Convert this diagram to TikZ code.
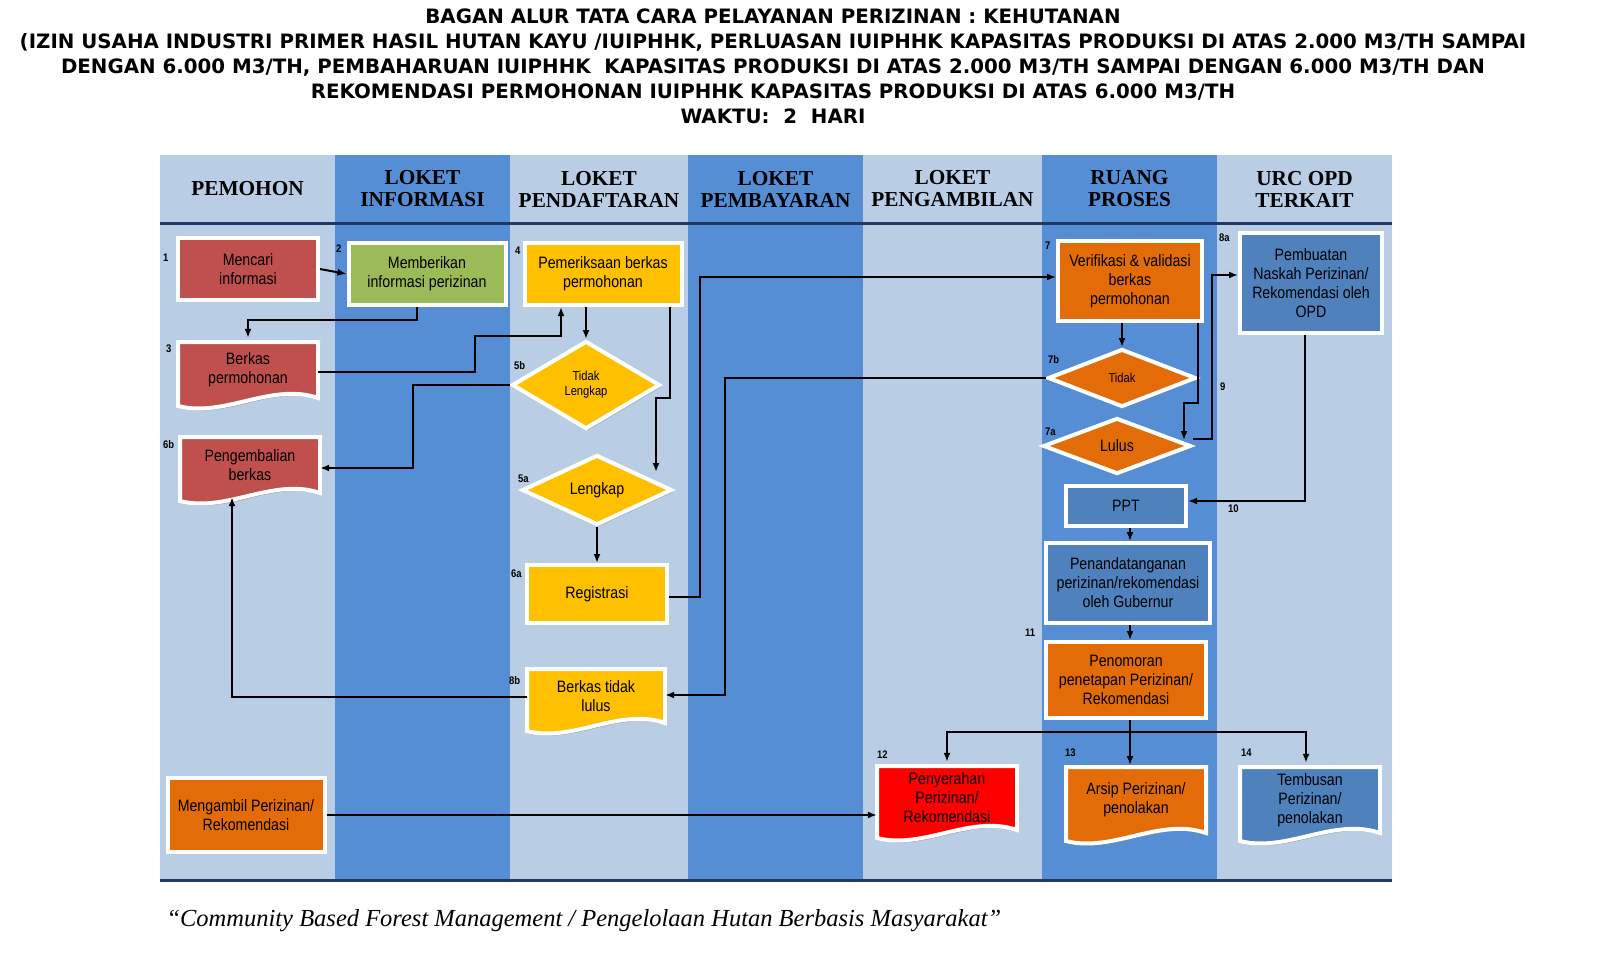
\documentclass[tikz,border=0pt]{standalone}
\usepackage{fontspec}
\setmainfont{Liberation Sans}[FakeStretch=0.86]
\newfontfamily\titlefont{DejaVu Sans}
\newfontfamily\lanefont{Liberation Serif}
\usetikzlibrary{arrows.meta, shapes.geometric, shadows}

\definecolor{laneLight}{HTML}{B9CDE5}
\definecolor{laneDark}{HTML}{558ED5}
\definecolor{lineNavy}{HTML}{1F3864}
\definecolor{boxRed}{HTML}{C0504D}
\definecolor{boxGreen}{HTML}{9BBB59}
\definecolor{boxYellow}{HTML}{FFC000}
\definecolor{boxOrange}{HTML}{E36C09}
\definecolor{boxBlue}{HTML}{4F81BD}

\tikzset{
  procbox/.style={draw=white, line width=4pt, text=black, align=center,
    font=\fontsize{16.5}{19}\selectfont,
    drop shadow={opacity=0.45, shadow xshift=2pt, shadow yshift=-2pt}},
  choice/.style={procbox, diamond, inner sep=0pt},
  num/.style={font=\fontsize{11}{12}\selectfont\bfseries, anchor=north west, inner sep=0pt},
  flow/.style={-{Latex[length=9pt,width=7pt]}, line width=2pt},
  lane/.style={font=\fontsize{21.3}{22}\lanefont\bfseries, align=center}
}

% document box: name, centre, width, height, colour, text
\newcommand{\docnode}[6]{%
  \begin{scope}[shift={(#2)}]
    \fill[black!45, shift={(2,2)}] (-#3/2,-#4/2) -- (#3/2,-#4/2) -- (#3/2,#4/2-8)
      .. controls (#3/6,#4/2-24) and (-#3/6,#4/2+12) .. (-#3/2,#4/2) -- cycle;
    \filldraw[fill=#5, draw=white, line width=4pt] (-#3/2,-#4/2) -- (#3/2,-#4/2) -- (#3/2,#4/2-8)
      .. controls (#3/6,#4/2-24) and (-#3/6,#4/2+12) .. (-#3/2,#4/2) -- cycle;
    \node[align=center, font=\fontsize{16.5}{19}\selectfont, minimum width=#3, minimum height=#4] (#1) at (0,-4) {#6};
  \end{scope}}

\begin{document}
\begin{tikzpicture}[x=1pt, y=-1pt]
\fill[white] (0,0) rectangle (1600,960);

% title
\node[font=\fontsize{19.8}{25}\titlefont\bfseries, align=center, anchor=north] (title) at (773,5)
  {BAGAN ALUR TATA CARA PELAYANAN PERIZINAN : KEHUTANAN\\
   (IZIN USAHA INDUSTRI PRIMER HASIL HUTAN KAYU /IUIPHHK, PERLUASAN IUIPHHK KAPASITAS PRODUKSI DI ATAS 2.000 M3/TH SAMPAI\\
   DENGAN 6.000 M3/TH, PEMBAHARUAN IUIPHHK \ KAPASITAS PRODUKSI DI ATAS 2.000 M3/TH SAMPAI DENGAN 6.000 M3/TH DAN\\
   REKOMENDASI PERMOHONAN IUIPHHK KAPASITAS PRODUKSI DI ATAS 6.000 M3/TH\\
   WAKTU: \ 2 \ HARI};

% lanes
\fill[laneLight] (160,155) rectangle (335,880);
\fill[laneDark]  (335,155) rectangle (510,880);
\fill[laneLight] (510,155) rectangle (688,880);
\fill[laneDark]  (688,155) rectangle (863,880);
\fill[laneLight] (863,155) rectangle (1042,880);
\fill[laneDark]  (1042,155) rectangle (1217,880);
\fill[laneLight] (1217,155) rectangle (1392,880);
\draw[lineNavy, line width=3pt] (160,223) -- (1392,223);
\draw[lineNavy, line width=3pt] (160,880) -- (1392,880);

\node[lane] (hPemohon) at (247.5,189) {PEMOHON};
\node[lane] (hInfo) at (422.5,189) {LOKET\\INFORMASI};
\node[lane] (hDaftar) at (599,189) {LOKET\\PENDAFTARAN};
\node[lane] (hBayar) at (775.5,189) {LOKET\\PEMBAYARAN};
\node[lane] (hAmbil) at (952.5,189) {LOKET\\PENGAMBILAN};
\node[lane] (hProses) at (1129.5,189) {RUANG\\PROSES};
\node[lane] (hUrc) at (1304.5,189) {URC OPD\\TERKAIT};

% steps
\node[procbox, fill=boxRed, minimum width=140, minimum height=62] (cari) at (248,269) {Mencari\\informasi};
\node[procbox, fill=boxGreen, minimum width=157, minimum height=62] (info) at (427,274) {Memberikan\\informasi perizinan};
\node[procbox, fill=boxYellow, minimum width=157, minimum height=62] (periksa) at (603,274) {Pemeriksaan berkas\\permohonan};
\docnode{berkas}{248,374}{140}{64}{boxRed}{Berkas\\permohonan}
\node[choice, fill=boxYellow, minimum width=148, minimum height=88, font=\fontsize{13}{15}\selectfont] (tdkLengkap) at (586,385) {Tidak\\Lengkap};
\docnode{kembali}{250,469}{140}{64}{boxRed}{Pengembalian\\berkas}
\node[choice, fill=boxYellow, minimum width=150, minimum height=70] (lengkap) at (597,490) {Lengkap};
\node[procbox, fill=boxYellow, minimum width=140, minimum height=58] (registrasi) at (597,594) {Registrasi};
\docnode{tdkLulus}{596,700}{138}{62}{boxYellow}{Berkas tidak\\lulus}
\node[procbox, fill=boxOrange, minimum width=144, minimum height=80] (verif) at (1130,281) {Verifikasi \& validasi\\berkas\\permohonan};
\node[choice, fill=boxOrange, minimum width=148, minimum height=58, font=\fontsize{13}{15}\selectfont] (tidak) at (1122,378) {Tidak};
\node[choice, fill=boxOrange, minimum width=148, minimum height=56] (lulus) at (1117,446) {Lulus};
\node[procbox, fill=boxBlue, minimum width=142, minimum height=100] (naskah) at (1311,283) {Pembuatan\\Naskah Perizinan/\\Rekomendasi oleh\\OPD};
\node[procbox, fill=boxBlue, minimum width=120, minimum height=40] (ppt) at (1126,506) {PPT};
\node[procbox, fill=boxBlue, minimum width=164, minimum height=80] (ttd) at (1128,583) {Penandatanganan\\perizinan/rekomendasi\\oleh Gubernur};
\node[procbox, fill=boxOrange, minimum width=160, minimum height=76] (nomor) at (1126,680) {Penomoran\\penetapan Perizinan/\\Rekomendasi};
\docnode{serah}{947,802}{140}{72}{red}{Penyerahan\\Perizinan/\\Rekomendasi}
\docnode{arsip}{1136,804}{140}{74}{boxOrange}{Arsip Perizinan/\\penolakan}
\docnode{tembusan}{1310,804}{140}{74}{boxBlue}{Tembusan\\Perizinan/\\penolakan}
\node[procbox, fill=boxOrange, minimum width=157, minimum height=74] (ambil) at (246,815) {Mengambil Perizinan/\\Rekomendasi};

% numbers
\node[num] (n1) at (163,254) {1};
\node[num] (n2) at (336,245) {2};
\node[num] (n4) at (515,247) {4};
\node[num] (n3) at (166,345) {3};
\node[num] (n5b) at (514,361) {5b};
\node[num] (n6b) at (163,440) {6b};
\node[num] (n5a) at (518,475) {5a};
\node[num] (n6a) at (511,570) {6a};
\node[num] (n8b) at (509,676) {8b};
\node[num] (n7) at (1045,242) {7};
\node[num] (n7b) at (1048,355) {7b};
\node[num] (n7a) at (1045,428) {7a};
\node[num] (n8a) at (1219,234) {8a};
\node[num] (n9) at (1220,383) {9};
\node[num] (n10) at (1228,505) {10};
\node[num] (n11) at (1025,629) {11};
\node[num] (n12) at (877,751) {12};
\node[num] (n13) at (1065,749) {13};
\node[num] (n14) at (1241,749) {14};

% connectors
\draw[flow] (cari.east) -- (info.west);
\draw[flow] (info.south -| 417,0) |- (248,320) -- (berkas.north);
\draw[flow] (berkas.east |- 0,372) -| (475,336) -| (periksa.south -| 561,0);
\draw[flow] (periksa.south -| tdkLengkap) -- (tdkLengkap.north);
\draw[flow] (periksa.south -| 670,0) |- (656,398) -- (656,472);
\draw[flow] (tdkLengkap.west) -| (413,468) -- (kembali.east |- 0,468);
\draw[flow] (lengkap.south) -- (registrasi.north);
\draw[flow] (registrasi.east |- 0,597) -| (700,277) -- (verif.west |- 0,277);
\draw[flow] (verif.south -| tidak) -- (tidak.north);
\draw[flow] (verif.south -| 1198,0) |- (1184,403) -- (1184,440);
\draw[flow] (tidak.west) -| (725,695) -- (tdkLulus.east |- 0,695);
\draw[flow] (lulus.east |- 0,439) -| (1212,275) -- (naskah.west |- 0,275);
\draw[flow] (naskah.south -| 1305,0) |- (ppt.east |- 0,501);
\draw[flow] (ppt.south -| 1130,0) -- (ttd.north -| 1130,0);
\draw[flow] (ttd.south -| 1130,0) -- (nomor.north -| 1130,0);
\coordinate (split) at (1130,732);
\draw[line width=2pt] (nomor.south -| split) -- (split);
\draw[flow] (split) -| (serah.north);
\draw[flow] (split) -- (1130,765);
\draw[flow] (split) -| (tembusan.north -| 1306,0);
\draw[flow] (tdkLulus.west |- 0,697) -| (kembali.south -| 232,0);
\draw[flow] (ambil.east) -- (serah.west |- ambil.east);

% footer
\node[font=\fontsize{24.5}{26}\lanefont\itshape, anchor=west] (footer) at (163,921)
  {“Community Based Forest Management / Pengelolaan Hutan Berbasis Masyarakat”};

\pgfresetboundingbox
\useasboundingbox (0,0) rectangle (1600,960);
\end{tikzpicture}
\end{document}
